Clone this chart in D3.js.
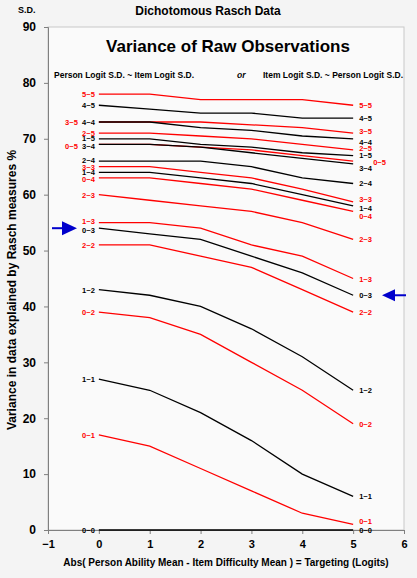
<!DOCTYPE html>
<html><head><meta charset="utf-8">
<script src="https://cdn.jsdelivr.net/npm/d3@7"></script>
<style>body{margin:0;background:#f4f4f4;font-family:Arial,"Liberation Sans",sans-serif}</style>
</head><body><svg id="c" width="417" height="578"></svg>
<script>
const xs = [0, 1, 2, 3, 4, 5];
const names = ["5~5","4~5","3~5","4~4","2~5","1~5","0~5","3~4","2~4","3~3","1~4","0~4","2~3","1~3","0~3","2~2","1~2","0~2","1~1","0~1","0~0"];
const colorsOf = ["r","k","r","k","r","k","r","k","k","r","k","r","r","r","k","r","k","r","k","r","k"];
const values = [
  [78,78,77,77,77,76],
  [76,75.3,74.6,74.6,73.7,73.7],
  [73,73,73,72.5,72,71],
  [73,73,72,71.5,70.5,70],
  [71,71,70.5,70,69,68],
  [70,70,69,68.5,67.5,67],
  [69,69,68.5,68,67,66],
  [69,69,68.5,67.5,66.5,65.5],
  [66,66,66,65,63,62],
  [65,65,64,63,61,58.7],
  [64,64,63,62,60,58],
  [63,63,62,61,59,57],
  [60,59,58,57,55,52],
  [55,55,54,51,49,45],
  [54,53,52,49,46,42],
  [51,51,49,47,43,39],
  [43,42,40,36,31,25],
  [39,38,35,30,25,19],
  [27,25,21,16,10,6],
  [17,15,11,7,3,1],
  [0,0,0,0,0,0]
];
const xTicks = [-1,0,1,2,3,4,5,6];
const yTicks = [0,10,20,30,40,50,60,70,80,90];
const RED = "#ff0000", BLK = "#000000";

const svg = d3.select("#c");
const x = d3.scaleLinear().domain([-1, 6]).range([48, 404]);
const y = d3.scaleLinear().domain([0, 90]).range([530, 27]);

svg.append("rect").attr("x",48).attr("y",27).attr("width",356).attr("height",503).attr("fill","#fafafa").attr("stroke","#c8c8c8");

svg.append("g").attr("transform","translate(48,0)")
  .call(d3.axisLeft(y).tickValues(yTicks).tickSize(4).tickPadding(8))
  .call(g=>{g.select(".domain").attr("stroke","#7f7f7f");g.selectAll(".tick line").attr("stroke","#7f7f7f");
    g.selectAll("text").attr("font-size",12).attr("font-weight","bold").attr("fill","#000").attr("font-family","Arial, Liberation Sans");});
svg.append("g").attr("transform","translate(0,530)")
  .call(d3.axisBottom(x).tickValues(xTicks).tickSize(4).tickPadding(6).tickFormat(d3.format("d")))
  .call(g=>{g.select(".domain").attr("stroke","#7f7f7f");g.selectAll(".tick line").attr("stroke","#7f7f7f");
    g.selectAll("text").attr("font-size",11).attr("font-weight","bold").attr("fill","#000").attr("font-family","Arial, Liberation Sans");});

const line = d3.line().x((d,i)=>x(xs[i])).y(d=>y(d));
values.forEach((v,i)=>{
  svg.append("path").attr("d",line(v)).attr("fill","none")
    .attr("stroke", colorsOf[i]==="r"?RED:BLK).attr("stroke-width",1.3);
});

const lab = svg.append("g").attr("font-size",7.5).attr("font-weight","bold");
const leftDy = {"1~5":-1,"0~5":2,"3~4":2,"2~4":-1,"0~4":1,"1~3":-2,"0~3":2};
const leftDx = {"3~5":-17,"0~5":-17};
const rightDy = {"4~4":3,"3~5":-2,"1~5":-1,"3~4":4,"2~5":-2,"3~3":-3,"1~4":2,"0~4":5,"0~1":-3};
names.forEach((n,i)=>{
  const v = values[i];
  const col = colorsOf[i]==="r"?RED:BLK;
  lab.append("text").attr("x",x(0)-4+(leftDx[n]||0)).attr("y",y(v[0])+3+(leftDy[n]||0))
    .attr("text-anchor","end").attr("fill",col).text(n);
  let ry = y(v[5])+3+(rightDy[n]||0), rdx = 0;
  if (n==="0~5") { rdx = 14; ry += 1; }
  lab.append("text").attr("x",x(5)+6+rdx).attr("y",ry).attr("fill",col).text(n);
});

svg.append("text").attr("x",18).attr("y",13).attr("font-size",9).attr("font-weight","bold").text("S.D.");
svg.append("text").attr("x",208).attr("y",15).attr("text-anchor","middle").attr("font-size",12).attr("font-weight","bold").text("Dichotomous Rasch Data");
svg.append("text").attr("x",228).attr("y",52).attr("text-anchor","middle").attr("font-size",17).attr("font-weight","bold").text("Variance of Raw Observations");
svg.append("text").attr("x",54).attr("y",78).attr("font-size",8.5).attr("font-weight","bold").text("Person Logit S.D. ~ Item Logit S.D.");
svg.append("text").attr("x",237).attr("y",78).attr("font-size",8.5).attr("font-weight","bold").attr("font-style","italic").text("or");
svg.append("text").attr("x",403).attr("y",78).attr("text-anchor","end").attr("font-size",8.5).attr("font-weight","bold").text("Item Logit S.D. ~ Person Logit S.D.");
svg.append("text").attr("transform","translate(16,290) rotate(-90)").attr("text-anchor","middle").attr("font-size",12).attr("font-weight","bold").text("Variance in data explained by Rasch measures %");
svg.append("text").attr("x",226).attr("y",566).attr("text-anchor","middle").attr("font-size",10).attr("font-weight","bold").text("Abs( Person Ability Mean - Item Difficulty Mean ) = Targeting (Logits)");

const ay1 = y(values[14][0]), ay2 = y(values[14][5]);
svg.append("line").attr("x1",52).attr("x2",64).attr("y1",ay1).attr("y2",ay1).attr("stroke","#0000cc").attr("stroke-width",2);
svg.append("path").attr("d",`M62,${ay1-7}L77,${ay1}L62,${ay1+7}Z`).attr("fill","#0000cc");
svg.append("line").attr("x1",393).attr("x2",406).attr("y1",ay2).attr("y2",ay2).attr("stroke","#0000cc").attr("stroke-width",2);
svg.append("path").attr("d",`M395,${ay2-6}L382,${ay2}L395,${ay2+6}Z`).attr("fill","#0000cc");
</script></body></html>
